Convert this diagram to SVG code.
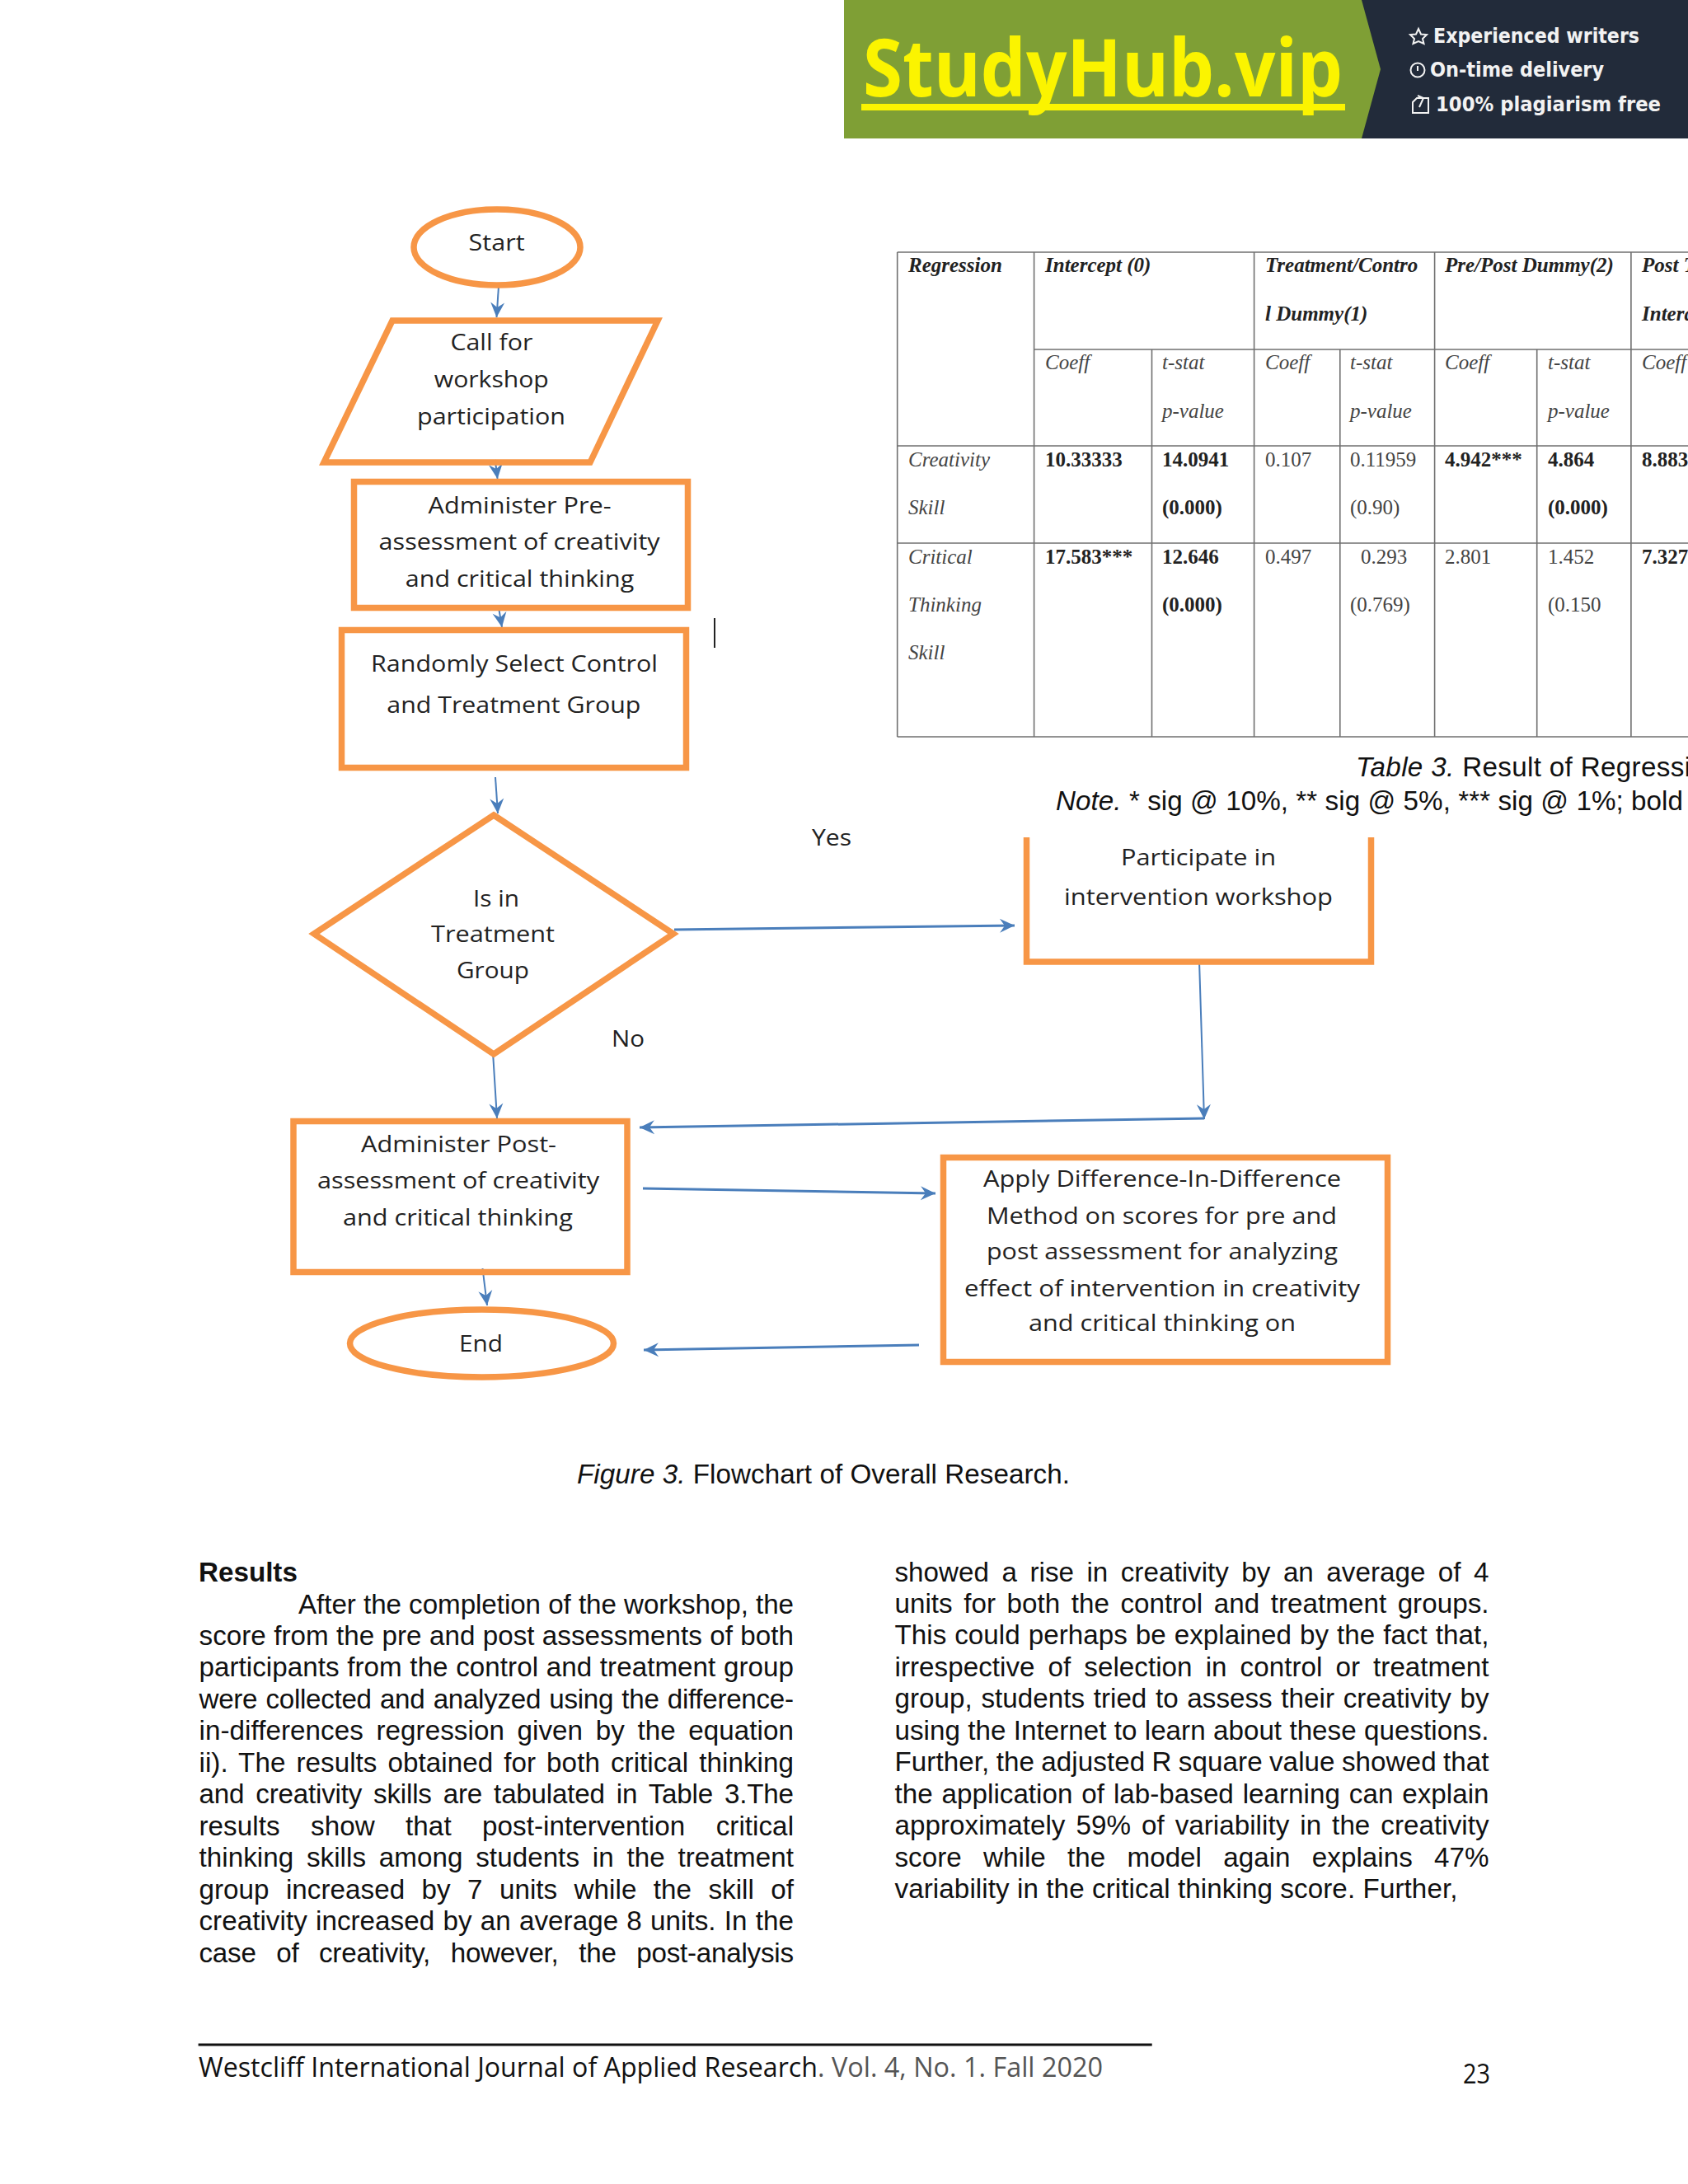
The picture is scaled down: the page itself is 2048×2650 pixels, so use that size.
<svg xmlns="http://www.w3.org/2000/svg" width="2048" height="2650" viewBox="0 0 2048 2650">
<style>
.s{fill:none;stroke:#f79646;stroke-width:7.5}
.f{font-family:"Open Sans","DejaVu Sans",sans-serif;font-size:28px;fill:#222}
.c{fill:none;stroke:#4a7ebb;stroke-width:2;marker-end:url(#a)}
.c2{fill:none;stroke:#4a7ebb;stroke-width:3;marker-end:url(#a)}
.t{fill:none;stroke:#707070;stroke-width:1.6}
.r{font-family:"Liberation Serif",serif;font-size:25px;fill:#222}
.i{font-style:italic;fill:#444}
.b{font-weight:bold}
.bi{font-weight:bold;font-style:italic}
.p{font-family:"Liberation Sans",Arial,sans-serif;font-size:33.2px;fill:#111}
.w{font-family:"DejaVu Sans",sans-serif;font-weight:bold;font-size:24px;fill:#f2f2f2}
.ic{fill:none;stroke:#f2f2f2;stroke-width:2}
</style>
<defs>
<marker id="a" markerUnits="userSpaceOnUse" markerWidth="24" markerHeight="24" refX="19" refY="12" orient="auto">
<path d="M19 12L1 3.500L7 12L1 20.500Z" fill="#4a7ebb"/>
</marker>
</defs>
<rect width="2048" height="2650" fill="#fff"/>

<g id="banner">
<rect x="1024" y="0" width="1024" height="168" fill="#222b3a"/>
<path d="M1024 0H1652L1675 84L1652 168H1024Z" fill="#7f9f35"/>
<text x="1047" y="117" font-family="Open Sans,sans-serif" font-weight="bold" font-size="97" fill="#fbf400" textLength="582" lengthAdjust="spacingAndGlyphs">StudyHub.vip</text>
<rect x="1045" y="126" width="587" height="8" fill="#fbf400"/>
<path class="ic" d="M1721 35L1724 41.500L1731 42L1726 47L1727.500 53L1721 50L1714.500 53L1716 47L1711 42L1718 41.500Z"/>
<circle class="ic" cx="1720" cy="85" r="8.500"/>
<path class="ic" d="M1720 80V86"/>
<path class="ic" d="M1719 119H1733V137H1714V124Z"/>
<path class="ic" d="M1720 116L1727 119L1722 130"/>
<text class="w" x="1739" y="52" textLength="250" lengthAdjust="spacingAndGlyphs">Experienced writers</text>
<text class="w" x="1735" y="93" textLength="211" lengthAdjust="spacingAndGlyphs">On-time delivery</text>
<text class="w" x="1742" y="135" textLength="273" lengthAdjust="spacingAndGlyphs">100% plagiarism free</text>
</g>

<g id="connectors">
<path class="c" d="M605 347L602.500 385"/>
<path class="c" d="M600.700 558L603.600 581"/>
<path class="c" d="M605 737L609 761"/>
<path class="c" d="M601 943L604 987"/>
<path class="c2" d="M818 1128L1231 1123"/>
<path class="c" d="M1455 1165L1461 1358"/>
<path class="c2" d="M1461 1357L776 1368"/>
<path class="c" d="M598 1277L603 1357"/>
<path class="c2" d="M780 1442L1135 1448"/>
<path class="c2" d="M1115 1632L781 1638"/>
<path class="c" d="M585.500 1539L591 1584"/>
</g>

<g id="start">
<ellipse class="s" cx="603" cy="300" rx="101" ry="46"/>
<text class="f" x="568.600" y="303.500" textLength="68" lengthAdjust="spacingAndGlyphs">Start</text>
</g>
<g id="call">
<path class="s" d="M476 389H798L716 561H393Z"/>
<text class="f" x="546.400" y="425" textLength="100" lengthAdjust="spacingAndGlyphs">Call for</text>
<text class="f" x="526.800" y="469.700" textLength="139" lengthAdjust="spacingAndGlyphs">workshop</text>
<text class="f" x="506" y="514.700" textLength="180" lengthAdjust="spacingAndGlyphs">participation</text>
</g>
<g id="pre">
<rect class="s" x="429.500" y="584.500" width="405" height="153"/>
<text class="f" x="519.600" y="622.600" textLength="222" lengthAdjust="spacingAndGlyphs">Administer Pre-</text>
<text class="f" x="459.600" y="667" textLength="341" lengthAdjust="spacingAndGlyphs">assessment of creativity</text>
<text class="f" x="491.800" y="712" textLength="277.500" lengthAdjust="spacingAndGlyphs">and critical thinking</text>
</g>
<g id="random">
<rect class="s" x="414.500" y="764.500" width="418" height="167"/>
<text class="f" x="450" y="815.400" textLength="348" lengthAdjust="spacingAndGlyphs">Randomly Select Control</text>
<text class="f" x="469.300" y="864.500" textLength="308" lengthAdjust="spacingAndGlyphs">and Treatment Group</text>
</g>
<path d="M867 750V786" fill="none" stroke="#222" stroke-width="2"/>
<g id="decision">
<path class="s" d="M599 989L817 1133L599 1279L381 1133Z"/>
<text class="f" x="574" y="1100" textLength="56" lengthAdjust="spacingAndGlyphs">Is in</text>
<text class="f" x="523" y="1143" textLength="150" lengthAdjust="spacingAndGlyphs">Treatment</text>
<text class="f" x="554" y="1187" textLength="88" lengthAdjust="spacingAndGlyphs">Group</text>
</g>
<g id="labels">
<text class="f" x="985" y="1026" textLength="48" lengthAdjust="spacingAndGlyphs">Yes</text>
<text class="f" x="742" y="1270" textLength="40" lengthAdjust="spacingAndGlyphs">No</text>
</g>
<g id="workshop">
<path class="s" d="M1245.500 1016V1167H1663.500V1016"/>
<text class="f" x="1360" y="1050" textLength="188" lengthAdjust="spacingAndGlyphs">Participate in</text>
<text class="f" x="1291" y="1098" textLength="326" lengthAdjust="spacingAndGlyphs">intervention workshop</text>
</g>
<g id="post">
<rect class="s" x="356" y="1360.500" width="405" height="183"/>
<text class="f" x="438" y="1398" textLength="237" lengthAdjust="spacingAndGlyphs">Administer Post-</text>
<text class="f" x="385" y="1442" textLength="342" lengthAdjust="spacingAndGlyphs">assessment of creativity</text>
<text class="f" x="416" y="1487" textLength="279" lengthAdjust="spacingAndGlyphs">and critical thinking</text>
</g>
<g id="did">
<rect class="s" x="1144.500" y="1404.500" width="539" height="248"/>
<text class="f" x="1193" y="1440" textLength="434" lengthAdjust="spacingAndGlyphs">Apply Difference-In-Difference</text>
<text class="f" x="1197" y="1485" textLength="425" lengthAdjust="spacingAndGlyphs">Method on scores for pre and</text>
<text class="f" x="1197" y="1528" textLength="426" lengthAdjust="spacingAndGlyphs">post assessment for analyzing</text>
<text class="f" x="1170" y="1573" textLength="480" lengthAdjust="spacingAndGlyphs">effect of intervention in creativity</text>
<text class="f" x="1248" y="1615" textLength="324" lengthAdjust="spacingAndGlyphs">and critical thinking on</text>
</g>
<g id="end">
<ellipse class="s" cx="584.500" cy="1630" rx="160" ry="41"/>
<text class="f" x="557" y="1640" textLength="53" lengthAdjust="spacingAndGlyphs">End</text>
</g>

<g id="table">
<path class="t" d="M1088.700 306H2048M1254.600 424H2048M1088.700 541H2048M1088.700 659H2048M1088.700 894H2048"/>
<path class="t" d="M1088.700 306V894M1254.600 306V894M1397.500 424V894M1521.600 306V894M1625.800 424V894M1740.600 306V894M1864.700 424V894M1978.900 306V894"/>
<g class="r">
<text class="bi" x="1102" y="330">Regression</text>
<text class="bi" x="1268" y="330">Intercept (0)</text>
<text class="bi" x="1535" y="330">Treatment/Contro</text>
<text class="bi" x="1535" y="389">l Dummy(1)</text>
<text class="bi" x="1753" y="330">Pre/Post Dummy(2)</text>
<text class="bi" x="1992" y="330">Post T</text>
<text class="bi" x="1992" y="389">Intera</text>
<text class="i" x="1268" y="448">Coeff</text>
<text class="i" x="1410" y="448">t-stat</text>
<text class="i" x="1410" y="507">p-value</text>
<text class="i" x="1535" y="448">Coeff</text>
<text class="i" x="1638" y="448">t-stat</text>
<text class="i" x="1638" y="507">p-value</text>
<text class="i" x="1753" y="448">Coeff</text>
<text class="i" x="1878" y="448">t-stat</text>
<text class="i" x="1878" y="507">p-value</text>
<text class="i" x="1992" y="448">Coeff</text>
<text class="i" x="1102" y="566">Creativity</text>
<text class="i" x="1102" y="624">Skill</text>
<text class="b" x="1268" y="566">10.33333</text>
<text class="b" x="1410" y="566">14.0941</text>
<text class="b" x="1410" y="624">(0.000)</text>
<text x="1535" y="566" fill="#444">0.107</text>
<text x="1638" y="566" fill="#444">0.11959</text>
<text x="1638" y="624" fill="#444">(0.90)</text>
<text class="b" x="1753" y="566">4.942***</text>
<text class="b" x="1878" y="566">4.864</text>
<text class="b" x="1878" y="624">(0.000)</text>
<text class="b" x="1992" y="566">8.883</text>
<text class="i" x="1102" y="684">Critical</text>
<text class="i" x="1102" y="742">Thinking</text>
<text class="i" x="1102" y="800">Skill</text>
<text class="b" x="1268" y="684">17.583***</text>
<text class="b" x="1410" y="684">12.646</text>
<text class="b" x="1410" y="742">(0.000)</text>
<text x="1535" y="684" fill="#444">0.497</text>
<text x="1651" y="684" fill="#444">0.293</text>
<text x="1638" y="742" fill="#444">(0.769)</text>
<text x="1753" y="684" fill="#444">2.801</text>
<text x="1878" y="684" fill="#444">1.452</text>
<text x="1878" y="742" fill="#444">(0.150</text>
<text class="b" x="1992" y="684">7.327</text>
</g>
</g>

<g id="captions">
<text class="p" x="1645" y="942" textLength="406"><tspan font-style="italic">Table 3.</tspan> Result of Regressi</text>
<text class="p" x="1281" y="983" textLength="761"><tspan font-style="italic">Note.</tspan> * sig @ 10%, ** sig @ 5%, *** sig @ 1%; bold</text>
<text class="p" x="700" y="1800" textLength="598"><tspan font-style="italic">Figure 3.</tspan> Flowchart of Overall Research.</text>
</g>

<g id="body" transform="translate(0 0.6)">
<text class="p" font-weight="bold" x="241" y="1918">Results</text>
<text class="p" x="362" y="1957" textLength="601">After the completion of the workshop, the</text>
<text class="p" x="241.500" y="1995.450" textLength="721.500">score from the pre and post assessments of both</text>
<text class="p" x="241.500" y="2033.900" textLength="721.500" word-spacing="0.4">participants from the control and treatment group</text>
<text class="p" x="241.500" y="2072.350" textLength="721.500" word-spacing="1.3">were collected and analyzed using the difference-</text>
<text class="p" x="241.500" y="2110.800" textLength="721.500" word-spacing="6.3">in-differences regression given by the equation</text>
<text class="p" x="241.500" y="2149.250" textLength="721.500" word-spacing="3.75">ii). The results obtained for both critical thinking</text>
<text class="p" x="241.500" y="2187.700" textLength="721.500" word-spacing="5.05">and creativity skills are tabulated in Table 3.The</text>
<text class="p" x="241.500" y="2226.150" textLength="721.500" word-spacing="28.2">results show that post-intervention critical</text>
<text class="p" x="241.500" y="2264.600" textLength="721.500" word-spacing="6.5">thinking skills among students in the treatment</text>
<text class="p" x="241.500" y="2303.050" textLength="721.500" word-spacing="11.1">group increased by 7 units while the skill of</text>
<text class="p" x="241.500" y="2341.500" textLength="721.500" word-spacing="0.96">creativity increased by an average 8 units. In the</text>
<text class="p" x="241.500" y="2379.950" textLength="721.500" word-spacing="15.6">case of creativity, however, the post-analysis</text>
<text class="p" x="1085.500" y="1918" textLength="721" word-spacing="6.2">showed a rise in creativity by an average of 4</text>
<text class="p" x="1085.500" y="1956.450" textLength="721" word-spacing="4.25">units for both the control and treatment groups.</text>
<text class="p" x="1085.500" y="1994.900" textLength="721" word-spacing="0.7">This could perhaps be explained by the fact that,</text>
<text class="p" x="1085.500" y="2033.350" textLength="721" word-spacing="6.8">irrespective of selection in control or treatment</text>
<text class="p" x="1085.500" y="2071.800" textLength="721" word-spacing="1.37">group, students tried to assess their creativity by</text>
<text class="p" x="1085.500" y="2110.250" textLength="721">using the Internet to learn about these questions.</text>
<text class="p" x="1085.500" y="2148.700" textLength="721" word-spacing="-1">Further, the adjusted R square value showed that</text>
<text class="p" x="1085.500" y="2187.150" textLength="721" word-spacing="1.6">the application of lab-based learning can explain</text>
<text class="p" x="1085.500" y="2225.600" textLength="721" word-spacing="3.75">approximately 59% of variability in the creativity</text>
<text class="p" x="1085.500" y="2264.050" textLength="721" word-spacing="17">score while the model again explains 47%</text>
<text class="p" x="1085.500" y="2302.500" textLength="683">variability in the critical thinking score. Further,</text>
</g>

<g id="footer">
<path d="M240.600 2481H1397.700" stroke="#111" stroke-width="3" fill="none"/>
<text x="241" y="2520" font-family="Open Sans,sans-serif" font-size="32" fill="#111" textLength="751" lengthAdjust="spacingAndGlyphs">Westcliff International Journal of Applied Research</text>
<text x="992" y="2520" font-family="Open Sans,sans-serif" font-size="32" fill="#555" textLength="346" lengthAdjust="spacingAndGlyphs">. Vol. 4, No. 1. Fall 2020</text>
<text x="1775" y="2528" font-family="Open Sans,sans-serif" font-size="32" fill="#111" textLength="33" lengthAdjust="spacingAndGlyphs">23</text>
</g>
</svg>
